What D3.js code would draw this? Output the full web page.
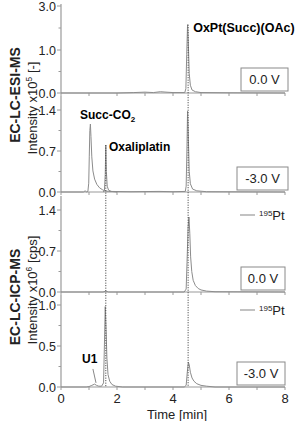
<!DOCTYPE html>
<html>
<head>
<meta charset="utf-8">
<script src="https://cdn.jsdelivr.net/npm/d3@7"></script>
<style>
  body { margin: 0; background: #fff; }
  svg { font-family: Arial, "Liberation Sans", sans-serif; }
  .trace { fill: none; stroke: #8c8c8c; stroke-width: 1; }
  .boxlabel { font-size: 13px; fill: #222; }
</style>
</head>
<body>
<div id="chart"></div>
<script>
// EC-LC-ESI-MS, 0.0 V  [time min, intensity x10^5]
const esiOff = [[0,0],[1,0],[2,0],[2.6,0.01],[3.0,0.02],[3.3,0.01],[3.55,0.03],[3.75,0.02],[4.0,0.01],[4.42,0.01],
  [4.46,0.1],[4.49,0.9],[4.52,2.15],[4.55,1.2],[4.58,0.45],[4.62,0.18],[4.68,0.07],[4.8,0.03],[5.0,0.01],[6,0.005],[8,0]];
// EC-LC-ESI-MS, -3.0 V
const esiOnSucc = [[0,0],[0.8,0],[0.86,0.02],[0.92,0],[0.96,0.01],[0.99,0.15],[1.01,0.6],[1.03,1.05],[1.05,1.16],[1.07,0.95],
  [1.1,0.6],[1.14,0.36],[1.2,0.22],[1.28,0.13],[1.38,0.07],[1.48,0.04],[1.55,0.02],[1.7,0.01],[2.5,0.005],[3.5,0.01],
  [4.0,0.005],[4.44,0.01],[4.47,0.1],[4.5,0.8],[4.52,1.38],[4.55,0.9],[4.58,0.35],[4.62,0.14],[4.7,0.05],[4.85,0.02],[5.2,0.005],[8,0]];
const esiOnOxali = [[1.5,0],[1.55,0.02],[1.58,0.3],[1.6,0.8],[1.62,0.35],[1.65,0.1],[1.7,0.03],[1.8,0.01],[2.0,0]];
// EC-LC-ICP-MS 195Pt, 0.0 V  [intensity x10^6 cps]
const icpOff = [[0,0],[1.5,0],[1.6,0.015],[1.7,0],[4.4,0],[4.47,0.05],[4.5,0.5],[4.54,1.1],[4.57,1.28],[4.6,1.0],[4.63,0.6],
  [4.67,0.35],[4.72,0.2],[4.8,0.11],[4.9,0.06],[5.0,0.035],[5.2,0.015],[5.5,0.005],[8,0]];
// EC-LC-ICP-MS 195Pt, -3.0 V
const icpOn = [[0,0],[0.9,0],[1.0,0.005],[1.1,0.02],[1.2,0.035],[1.27,0.02],[1.35,0.01],[1.45,0.01],[1.52,0.05],[1.55,0.5],
  [1.58,0.98],[1.61,0.7],[1.64,0.35],[1.68,0.15],[1.74,0.07],[1.82,0.03],[1.95,0.01],[2.2,0],[4.4,0],[4.47,0.02],[4.51,0.18],
  [4.55,0.3],[4.58,0.27],[4.62,0.18],[4.68,0.11],[4.75,0.07],[4.85,0.04],[5.0,0.02],[5.2,0.01],[5.5,0],[8,0]];

const timeTicks = [0, 1, 2, 3, 4, 5, 6, 7, 8];
const timeLabels = [0, 2, 4, 6, 8];
const voltages = ["0.0 V", "-3.0 V", "0.0 V", "-3.0 V"];
const markerTimes = [1.6, 4.54];

const width = 298, height = 421;
const svg = d3.select("#chart").append("svg").attr("width", width).attr("height", height);

const x = d3.scaleLinear().domain([0, 8]).range([61, 285]);

// panels: y scale, axis top, major and minor ticks
const panels = [
  { y: d3.scaleLinear().domain([0, 1, 3]).range([93, 50, 6]), top: 4, major: [0, 1, 3], minor: [0.5, 2], box: [241, 288] },
  { y: d3.scaleLinear().domain([0, 1.4]).range([192, 110]), top: 96, major: [0, 0.7, 1.4], minor: [0.35, 1.05], box: [237, 288] },
  { y: d3.scaleLinear().domain([0, 1.4]).range([292, 210]), top: 196, major: [0, 0.7, 1.4], minor: [0.35, 1.05], box: [241, 285] },
  { y: d3.scaleLinear().domain([0, 1.0]).range([387, 305]), top: 295, major: [0, 0.5, 1.0], minor: [0.25, 0.75], box: [237, 285] }
];

const axisColor = "#9a9a9a";

panels.forEach((p, i) => {
  const g = svg.append("g");
  const base = p.y(0);
  // y axis
  g.append("line").attr("x1", 61).attr("x2", 61).attr("y1", base).attr("y2", p.top)
    .attr("stroke", axisColor).attr("stroke-width", 1.2);
  g.selectAll(".maj").data(p.major).enter().append("line")
    .attr("x1", 57).attr("x2", 61).attr("y1", d => p.y(d)).attr("y2", d => p.y(d))
    .attr("stroke", axisColor);
  g.selectAll(".min").data(p.minor).enter().append("line")
    .attr("x1", 58.5).attr("x2", 61).attr("y1", d => p.y(d)).attr("y2", d => p.y(d))
    .attr("stroke", axisColor);
  g.selectAll(".ylab").data(p.major).enter().append("text")
    .attr("x", 56).attr("y", d => p.y(d) + 4.5)
    .attr("text-anchor", "end").attr("font-size", 12.5).attr("fill", "#222")
    .text(d => d.toFixed(1));
  // x axis
  g.append("line").attr("x1", 61).attr("x2", 285).attr("y1", base).attr("y2", base)
    .attr("stroke", axisColor).attr("stroke-width", 1.2);
  g.selectAll(".xt").data(timeTicks).enter().append("line")
    .attr("x1", d => x(d)).attr("x2", d => x(d)).attr("y1", base).attr("y2", base + 3)
    .attr("stroke", axisColor);
  // voltage box
  const bx = p.box[0], bw = p.box[1] - p.box[0];
  g.append("rect").attr("x", bx).attr("y", base - 25).attr("width", bw).attr("height", 23)
    .attr("fill", "#fff").attr("stroke", "#8a8a8a");
  g.append("text").attr("class", "boxlabel").attr("x", bx + bw / 2).attr("y", base - 9)
    .attr("text-anchor", "middle").text(voltages[i]);
});

// x labels on bottom panel
const pb = panels[3];
svg.selectAll(".xlab").data(timeLabels).enter().append("text")
  .attr("x", d => x(d)).attr("y", pb.y(0) + 16)
  .attr("text-anchor", "middle").attr("font-size", 13).attr("fill", "#222")
  .text(d => d);
svg.append("text").attr("x", 177).attr("y", 419).attr("text-anchor", "middle")
  .attr("font-size", 13).attr("fill", "#222").text("Time [min]");

// traces
const line = y => d3.line().x(d => x(d[0])).y(d => y(d[1]));
svg.append("path").attr("class", "trace").attr("d", line(panels[0].y)(esiOff));
svg.append("path").attr("class", "trace").attr("d", line(panels[1].y)(esiOnSucc));
svg.append("path").attr("class", "trace").attr("stroke", "#444").attr("d", line(panels[1].y)(esiOnOxali));
svg.append("path").attr("class", "trace").attr("d", line(panels[2].y)(icpOff));
svg.append("path").attr("class", "trace").attr("d", line(panels[3].y)(icpOn));

// dotted retention markers
svg.append("line").attr("x1", x(markerTimes[0])).attr("x2", x(markerTimes[0]))
  .attr("y1", panels[1].y(0.8)).attr("y2", panels[3].y(0))
  .attr("stroke", "#333").attr("stroke-dasharray", "1,1.5");
svg.append("line").attr("x1", x(markerTimes[1])).attr("x2", x(markerTimes[1]))
  .attr("y1", panels[0].y(2.15)).attr("y2", panels[3].y(0))
  .attr("stroke", "#333").attr("stroke-dasharray", "1,1.5");

// peak labels
svg.append("text").attr("x", x(4.72)).attr("y", panels[0].y(1.82))
  .attr("font-size", 12.5).attr("font-weight", "bold").text("OxPt(Succ)(OAc)");
const succ = svg.append("text").attr("x", x(0.68)).attr("y", panels[1].y(1.25))
  .attr("font-size", 12).attr("font-weight", "bold");
succ.append("tspan").text("Succ-CO");
succ.append("tspan").attr("font-size", 8).attr("dy", 3).text("2");
svg.append("text").attr("x", x(1.71)).attr("y", panels[1].y(0.7))
  .attr("font-size", 12).attr("font-weight", "bold").text("Oxaliplatin");
svg.append("text").attr("x", x(0.75)).attr("y", panels[3].y(0.29))
  .attr("font-size", 12).attr("font-weight", "bold").text("U1");
svg.append("line").attr("x1", x(1.14)).attr("y1", panels[3].y(0.22))
  .attr("x2", x(1.25)).attr("y2", panels[3].y(0.05)).attr("stroke", "#888");

// 195Pt legends
[panels[2], panels[3]].forEach(p => {
  const ly = p.y(p.major[2]) + 5;
  svg.append("line").attr("x1", 240).attr("x2", 255).attr("y1", ly).attr("y2", ly)
    .attr("stroke", "#9a9a9a").attr("stroke-width", 1.2);
  const t = svg.append("text").attr("x", 259).attr("y", ly + 4.5).attr("fill", "#222");
  t.append("tspan").attr("font-size", 8).attr("dy", -4).text("195");
  t.append("tspan").attr("font-size", 13).attr("dy", 4).text("Pt");
});

// y titles
const yTitle = (cx, cy, size, weight, parts) => {
  const t = svg.append("text").attr("transform", `translate(${cx},${cy}) rotate(-90)`)
    .attr("text-anchor", "middle").attr("font-size", size).attr("font-weight", weight).attr("fill", "#222");
  parts.forEach(pt => {
    const s = t.append("tspan").text(pt.text);
    if (pt.sup) s.attr("font-size", size * 0.65).attr("dy", -5);
    if (pt.after) s.attr("dy", 5);
  });
};
yTitle(20, 95, 14, "bold", [{ text: "EC-LC-ESI-MS" }]);
yTitle(37, 108, 13, "normal", [{ text: "Intensity x10" }, { text: "5", sup: true }, { text: " [-]", after: true }]);
yTitle(20, 297, 14, "bold", [{ text: "EC-LC-ICP-MS" }]);
yTitle(37, 290, 13, "normal", [{ text: "Intensity x10" }, { text: "6", sup: true }, { text: " [cps]", after: true }]);
</script>
</body>
</html>
